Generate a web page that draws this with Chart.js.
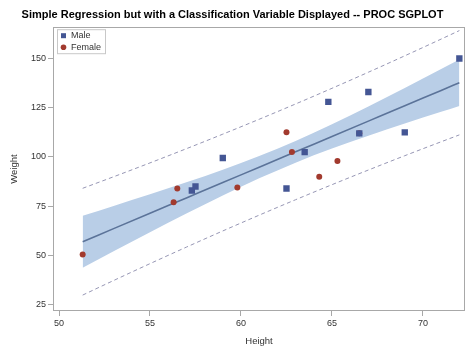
<!DOCTYPE html>
<html><head><meta charset="utf-8">
<script src="https://cdn.jsdelivr.net/npm/chart.js@4/dist/chart.umd.min.js"></script>
<style>html,body{margin:0;padding:0;background:#fff}#wrap{width:474px;height:355px;position:relative}</style>
</head><body><div id="wrap"><canvas id="c" width="474" height="355"></canvas></div>
<script>
// Observations (Height, Weight) by group
const maleHeight = [69.0, 63.5, 57.3, 62.5, 59.0, 72.0, 64.8, 67.0, 57.5, 66.5];
const maleWeight = [112.5, 102.5, 83.0, 84.0, 99.5, 150.0, 128.0, 133.0, 85.0, 112.0];
const femaleHeight = [56.5, 65.3, 62.8, 59.8, 62.5, 51.3, 64.3, 56.3, 66.5];
const femaleWeight = [84.0, 98.0, 102.5, 84.5, 112.5, 50.5, 90.0, 77.0, 112.0];
// Regression fit, 95% confidence band and prediction limits (read at these heights)
const bandHeight = [51.3, 53, 55, 57, 59, 61, 63, 65, 67, 69, 71, 72];
const fitWeight = [56.99, 63.62, 71.42, 79.22, 87.02, 94.81, 102.61, 110.41, 118.21, 126.01, 133.80, 137.70];
const clmLower = [43.80, 52.09, 61.76, 71.26, 80.48, 89.18, 97.13, 104.25, 110.77, 116.95, 122.91, 125.86];
const clmUpper = [70.18, 75.15, 81.08, 87.18, 93.56, 100.44, 108.09, 116.57, 125.65, 135.07, 144.69, 149.54];
const cliLower = [29.88, 37.28, 45.84, 54.23, 62.45, 70.47, 78.30, 85.94, 93.38, 100.65, 107.73, 111.22];
const cliUpper = [84.10, 89.96, 97.00, 104.21, 111.59, 119.15, 126.92, 134.88, 143.04, 151.37, 159.87, 164.18];
// Axis ticks
const xTicks = [50, 55, 60, 65, 70];
const yTicks = [25, 50, 75, 100, 125, 150];
const legendLabels = ['Male', 'Female'];

const FONT = "'Liberation Sans', Arial, sans-serif";
const pts = (xs, ys) => xs.map((x, i) => ({x: x, y: ys[i]}));
const lineDs = (label, ys, extra) => Object.assign({
  label: label, data: pts(bandHeight, ys), showLine: true, pointRadius: 0,
  pointHoverRadius: 0, cubicInterpolationMode: 'monotone', fill: false
}, extra);

const maleColor = '#445694', femaleColor = '#A23A2E';

const framePlugin = {
  id: 'frame',
  afterDraw(chart) {
    const ctx = chart.ctx, a = chart.chartArea;
    ctx.save();
    ctx.strokeStyle = '#A8A8A8';
    ctx.lineWidth = 1;
    ctx.strokeRect(Math.round(a.left) + 0.5, Math.round(a.top) + 0.5,
      Math.round(a.right - a.left) - 1, Math.round(a.bottom - a.top) - 1);
    // inset legend
    const lx = a.left + 4, ly = a.top + 2, lw = 48, lh = 24;
    ctx.fillStyle = '#fff';
    ctx.fillRect(lx, ly, lw, lh);
    ctx.strokeStyle = '#C8C8C8';
    ctx.strokeRect(lx + 0.5, ly + 0.5, lw, lh);
    ctx.fillStyle = maleColor;
    ctx.fillRect(lx + 4, ly + 4, 5, 5);
    ctx.fillStyle = femaleColor;
    ctx.beginPath(); ctx.arc(lx + 6.5, ly + 18, 2.8, 0, Math.PI * 2); ctx.fill();
    ctx.fillStyle = '#333';
    ctx.font = '9px ' + FONT;
    ctx.textBaseline = 'middle';
    ctx.fillText(legendLabels[0], lx + 14, ly + 6.5);
    ctx.fillText(legendLabels[1], lx + 14, ly + 18);
    ctx.restore();
  }
};

new Chart(document.getElementById('c'), {
  type: 'scatter',
  data: {
    datasets: [
      {label: 'Male', data: pts(maleHeight, maleWeight), pointStyle: 'rect', pointRadius: 4.5,
       backgroundColor: maleColor, borderColor: maleColor, borderWidth: 0, order: 0},
      {label: 'Female', data: pts(femaleHeight, femaleWeight), pointStyle: 'circle', pointRadius: 3,
       backgroundColor: femaleColor, borderColor: femaleColor, borderWidth: 0, order: 1},
      lineDs('Fit', fitWeight, {borderColor: '#5B7399', borderWidth: 1.6, order: 2}),
      lineDs('Upper prediction', cliUpper, {borderColor: '#9696B4', borderWidth: 1, borderDash: [4, 3], order: 3}),
      lineDs('Lower prediction', cliLower, {borderColor: '#9696B4', borderWidth: 1, borderDash: [4, 3], order: 4}),
      lineDs('Upper confidence', clmUpper, {borderColor: 'rgba(0,0,0,0)', borderWidth: 0, fill: 6, backgroundColor: '#B9CEE7', order: 5}),
      lineDs('Lower confidence', clmLower, {borderColor: 'rgba(0,0,0,0)', borderWidth: 0, order: 6})
    ]
  },
  options: {
    responsive: false, animation: false, devicePixelRatio: 1,
    layout: {padding: {left: 0, right: 9, top: 0, bottom: 0}},
    plugins: {
      legend: {display: false}, tooltip: {enabled: false},
      title: {display: true, text: 'Simple Regression but with a Classification Variable Displayed -- PROC SGPLOT',
        color: '#000', font: {family: FONT, size: 11, weight: 'bold'}, padding: {top: 8, bottom: 6}}
    },
    scales: {
      x: {
        type: 'linear', min: 49.67, max: 72.31,
        afterBuildTicks: s => { s.ticks = xTicks.map(v => ({value: v})); },
        afterFit: s => { s.height = 44; },
        grid: {display: true, drawOnChartArea: false, drawTicks: true, tickLength: 5, color: '#A8A8A8'},
        border: {display: false},
        ticks: {color: '#333', font: {family: FONT, size: 9}, padding: 2, maxRotation: 0},
        title: {display: true, text: 'Height', color: '#333', font: {family: FONT, size: 9.5}, padding: {top: 0, bottom: 8}}
      },
      y: {
        type: 'linear', min: 21.8, max: 165.9,
        afterBuildTicks: s => { s.ticks = yTicks.map(v => ({value: v})); },
        afterFit: s => { s.width = 53; },
        grid: {display: true, drawOnChartArea: false, drawTicks: true, tickLength: 5, color: '#A8A8A8'},
        border: {display: false},
        ticks: {color: '#333', font: {family: FONT, size: 9}, padding: 2},
        title: {display: true, text: 'Weight', color: '#333', font: {family: FONT, size: 9.5}, padding: {top: 9, bottom: 0}}
      }
    }
  },
  plugins: [framePlugin]
});
</script></body></html>
